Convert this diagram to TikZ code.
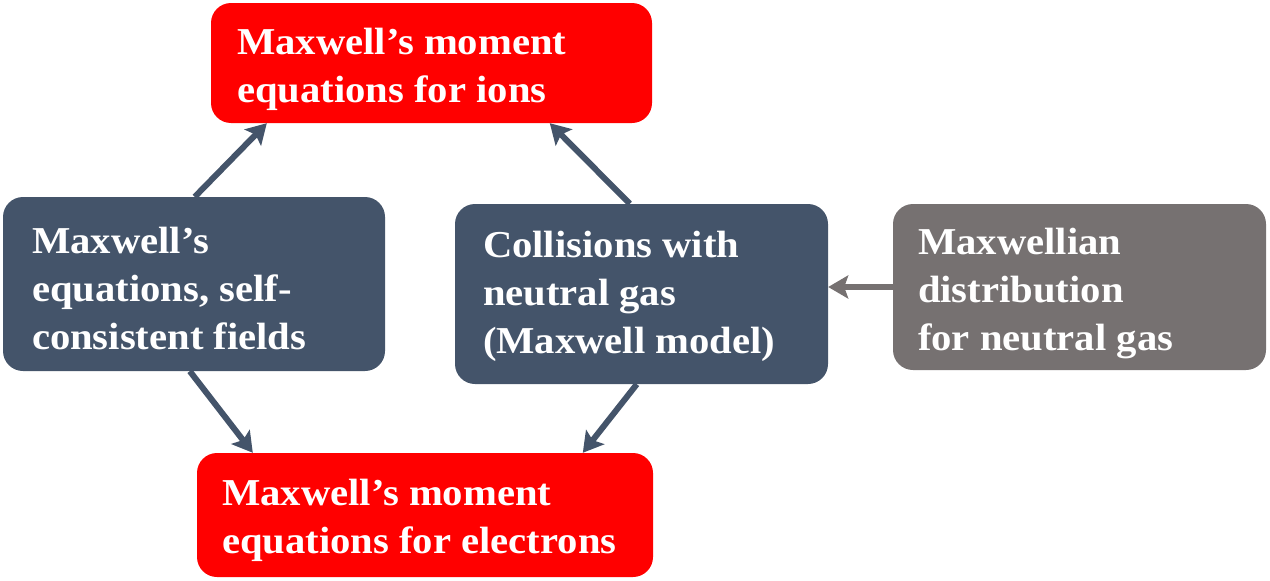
\documentclass[tikz,border=0pt]{standalone}
\usepackage{fontspec}
\setmainfont{Liberation Serif}[FakeStretch=1.07]
\usetikzlibrary{arrows.meta}
\definecolor{boxred}{HTML}{FF0000}
\definecolor{boxblue}{HTML}{44546A}
\definecolor{boxgray}{HTML}{767171}
\tikzset{
  box/.style={rounded corners=20pt, inner sep=0pt, anchor=center},
  redbox/.style={box, fill=boxred},
  bluebox/.style={box, fill=boxblue},
  graybox/.style={box, fill=boxgray},
  label text/.style={inner sep=0pt, text=white, align=left, anchor=west,
    font=\fontsize{38}{48}\selectfont\bfseries},
  conn/.style={line width=6pt, draw=boxblue, -{Stealth[length=20pt,width=23pt,inset=4pt]}},
  gconn/.style={conn, draw=boxgray}
}
\begin{document}
\begin{tikzpicture}[x=1pt,y=-1pt]
\useasboundingbox (0,0) rectangle (1270,581);
\node[redbox, minimum width=441pt, minimum height=120pt] (ions) at (431.5,63) {};
\node[bluebox, minimum width=382pt, minimum height=174pt] (maxeq) at (194,284) {};
\node[bluebox, minimum width=373pt, minimum height=180pt] (coll) at (641.5,294) {};
\node[graybox, minimum width=373pt, minimum height=166pt] (dist) at (1079.5,287) {};
\node[redbox, minimum width=456pt, minimum height=124pt] (elec) at (425,515) {};
\node[label text] (ionsT) at ([xshift=26pt,yshift=-6pt]ions.west) {Maxwell’s moment\\equations for ions};
\node[label text] (maxeqT) at ([xshift=29pt,yshift=-4pt]maxeq.west) {Maxwell’s\\equations, self-\\consistent fields};
\node[label text] (collT) at ([xshift=28pt,yshift=-2pt]coll.west) {Collisions with\\neutral gas\\(Maxwell model)};
\node[label text] (distT) at ([xshift=25pt,yshift=-7pt]dist.west) {Maxwellian\\distribution\\for neutral gas};
\node[label text] (elecT) at ([xshift=25pt,yshift=-5pt]elec.west) {Maxwell’s moment\\equations for electrons};
\draw[conn] ([xshift=192pt]maxeq.north west) -- ([xshift=56pt]ions.south west);
\draw[conn] ([xshift=175pt]coll.north west) -- ([xshift=339pt]ions.south west);
\draw[conn] ([xshift=187pt]maxeq.south west) -- ([xshift=56pt]elec.north west);
\draw[conn] ([xshift=182pt]coll.south west) -- ([xshift=386pt]elec.north west);
\draw[gconn] (dist.west |- 0,287) -- (coll.east |- 0,287);
\end{tikzpicture}
\end{document}
